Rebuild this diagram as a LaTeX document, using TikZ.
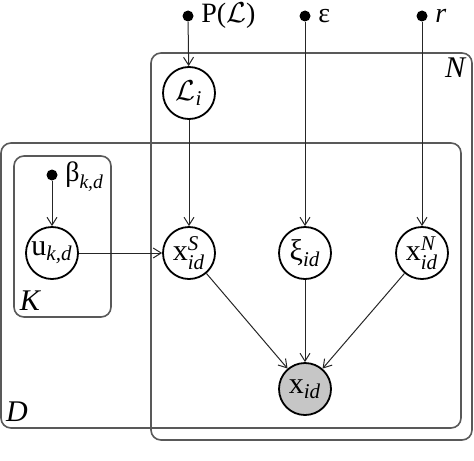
\documentclass[tikz,border=0pt]{standalone}
\usepackage{amsmath}
\usepackage{fontspec}
\setmainfont{Liberation Serif}
\usetikzlibrary{arrows.meta,positioning}

\begin{document}
\begin{tikzpicture}[x=0.5pt, y=-0.5pt,
    var/.style={circle, draw, line width=0.9pt, minimum size=26pt, inner sep=0pt, font=\fontsize{15}{17}\selectfont},
    obs/.style={var, fill=gray!45},
    hyper/.style={circle, fill=black, inner sep=0pt, minimum size=5.5pt},
    plate/.style={draw=black!65, line width=0.8pt, rounded corners=5pt},
    edge/.style={draw=black!85, -{Straight Barb[length=4pt,width=5pt]}, line width=0.5pt},
    lbl/.style={font=\fontsize{14}{16}\selectfont, inner sep=0pt}]
    \useasboundingbox (0,0) rectangle (474,460);
    % plates
    \draw[plate] (151,53) rectangle (472,440);
    \draw[plate] (1,143) rectangle (461,428);
    \draw[plate] (14,156) rectangle (111,317);
    \node[lbl, font=\fontsize{15}{17}\selectfont\itshape] (labN) at (455,68) {N};
    \node[lbl, font=\fontsize{15}{17}\selectfont\itshape] (labK) at (30,301) {K};
    \node[lbl, font=\fontsize{15}{17}\selectfont\itshape] (labD) at (17,412) {D};
    % hyperparameters
    \node[hyper] (pL) at (188,16) {};
    \node[lbl, right=3.5pt of pL] (pLlab) {P($\mathcal{L}$)};
    \node[hyper] (eps) at (305,16) {};
    \node[lbl, right=3.5pt of eps] (epslab) {ε};
    \node[hyper] (r) at (422,16) {};
    \node[lbl, right=3.5pt of r] (rlab) {\textit{r}};
    \node[hyper] (beta) at (52,175) {};
    \node[lbl, right=3.5pt of beta, yshift=-1pt] (betalab) {$\text{β}_{\textit{k,d}}$};
    % variables
    \node[var] (Li) at (189,93) {$\mathcal{L}_{\textit{i}}$};
    \node[var] (u) at (52,253) {$\text{u}_{\textit{k,d}}$};
    \node[var] (xS) at (189,253) {$\text{x}^{\textit{S}}_{\textit{id}}$};
    \node[var] (xi) at (305,253) {$\text{ξ}_{\textit{id}}$};
    \node[var] (xN) at (422,253) {$\text{x}^{\textit{N}}_{\textit{id}}$};
    \node[obs] (x) at (305,389) {$\text{x}_{\textit{id}}$};
    % edges
    \draw[edge] (pL) -- (Li);
    \draw[edge] (Li) -- (xS);
    \draw[edge] (eps) -- (xi);
    \draw[edge] (r) -- (xN);
    \draw[edge] (beta) -- (u);
    \draw[edge] (u) -- (xS);
    \draw[edge] (xS) -- (x);
    \draw[edge] (xi) -- (x);
    \draw[edge] (xN) -- (x);
\end{tikzpicture}
\end{document}
